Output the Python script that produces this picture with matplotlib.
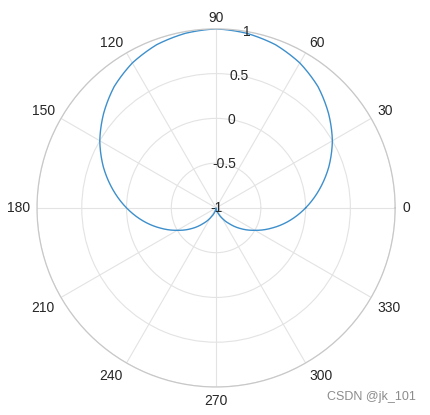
import numpy as np
import matplotlib
matplotlib.use("Agg")
import matplotlib.pyplot as plt

plt.rcParams['font.family'] = ['Liberation Sans', 'DejaVu Sans']

# angles in degrees (10 degree steps) and radial values
theta_deg = [0, 10, 20, 30, 40, 50, 60, 70, 80, 90, 100, 110, 120, 130, 140, 150, 160, 170,
             180, 190, 200, 210, 220, 230, 240, 250, 260, 270, 280, 290, 300, 310, 320, 330,
             340, 350, 360]
r_vals = [0.00, 0.17, 0.34, 0.50, 0.64, 0.77, 0.87, 0.94, 0.98, 1.00, 0.98, 0.94, 0.87, 0.77,
          0.64, 0.50, 0.34, 0.17, 0.00, -0.17, -0.34, -0.50, -0.64, -0.77, -0.87, -0.94,
          -0.98, -1.00, -0.98, -0.94, -0.87, -0.77, -0.64, -0.50, -0.34, -0.17, 0.00]
theta_ticks = [0, 30, 60, 90, 120, 150, 180, 210, 240, 270, 300, 330]
r_ticks = [-1, -0.5, 0, 0.5, 1]
r_tick_labels = ['-1', '-0.5', '0', '0.5', '1']

fig = plt.figure(figsize=(4.3, 4.15), dpi=100)
ax = fig.add_axes([0.086, 0.0675, 0.833, 0.863], projection='polar')
line, = ax.plot(np.deg2rad(theta_deg), r_vals, color='#3d8fcc', lw=1.0)
line.get_path()._interpolation_steps = 40
ax.set_ylim(-1, 1)
ax.set_xticks(np.deg2rad(theta_ticks))
ax.set_xticklabels([])
ax.set_yticks(r_ticks)
ax.set_yticklabels([])

# theta labels, box edge placed just outside the outer circle
r_lab = -1 + 2 * 1.04
for t in theta_ticks:
    a = np.deg2rad(t)
    c, s = np.cos(a), np.sin(a)
    ha = 'left' if c > 0.1 else ('right' if c < -0.1 else 'center')
    va = 'baseline' if s > 0.1 else ('top' if s < -0.1 else 'center')
    ax.text(a, r_lab, str(t), ha=ha, va=va, fontsize=10, color='#262626',
            clip_on=False)

for rv, lab in zip(r_ticks, r_tick_labels):
    ax.text(np.deg2rad(80), rv, lab, ha='center', va='center', fontsize=10,
            color='#262626', zorder=5)
ax.grid(True, color='#e3e3e3', lw=0.8)
ax.spines['polar'].set_color('#c8c8c8')
ax.spines['polar'].set_linewidth(0.9)
fig.text(0.966, 0.028, 'CSDN @jk_101', ha='right', va='bottom', fontsize=9, color='#8c8c8c')
fig.savefig('out.png', dpi=100)
